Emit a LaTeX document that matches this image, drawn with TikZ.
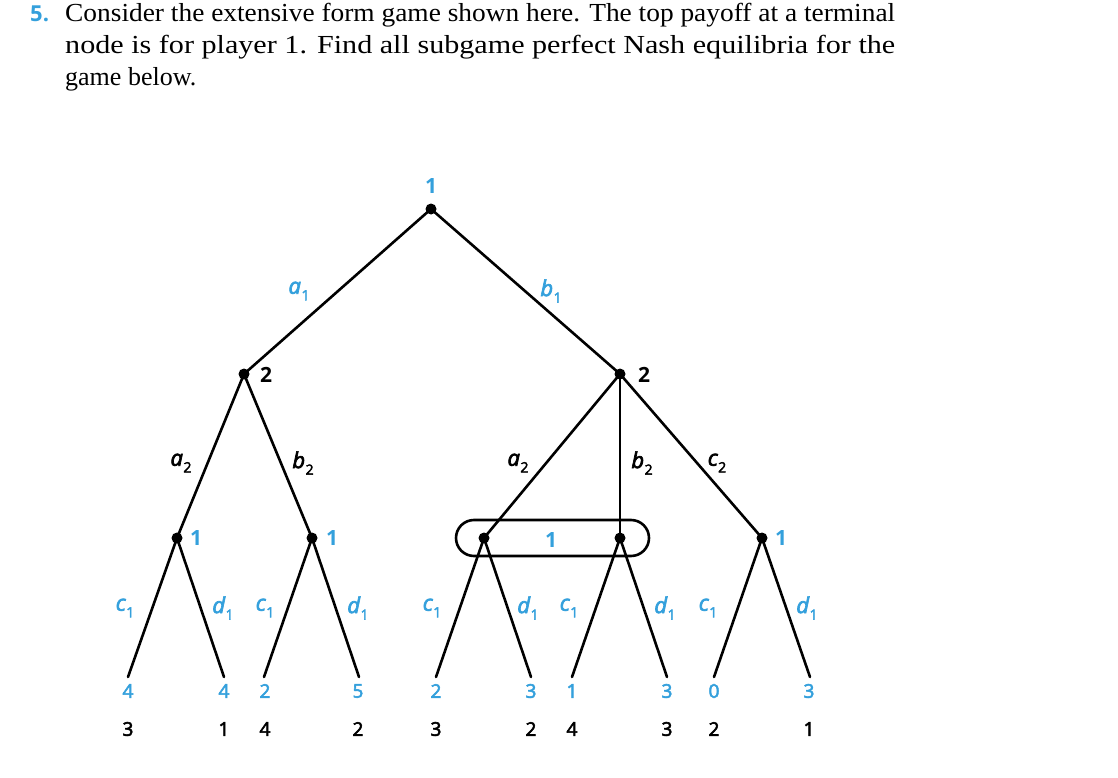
\documentclass[tikz,border=0pt]{standalone}
\usepackage{fontspec}
\usepackage{graphicx}
\setmainfont{Liberation Serif}
\newfontfamily\labf[FakeBold=3]{Open Sans}
\newfontfamily\labb{Open Sans}
\definecolor{qblue}{RGB}{52,160,220}
\newcommand{\sbs}[2]{{\itshape #1}\kern0.5pt\raisebox{-0.3em}{\fontsize{14}{14}\selectfont #2}}
\tikzset{
  dot/.style={circle,fill=black,inner sep=0pt,minimum size=11pt},
  edge/.style={line width=2.6pt,line cap=round},
  plab/.style={font=\labb\bfseries\fontsize{21}{21}\selectfont,text=qblue,inner sep=0pt},
  plabk/.style={font=\labb\bfseries\fontsize{21}{21}\selectfont,text=black,inner sep=0pt},
  alab/.style={font=\labf\fontsize{22}{22}\selectfont,text=black,inner sep=0pt},
  blab/.style={font=\labf\fontsize{22}{22}\selectfont,text=qblue,inner sep=0pt},
  pay/.style={font=\labf\fontsize{19}{19}\selectfont,text=qblue,inner sep=0pt},
  payk/.style={font=\labf\fontsize{19}{19}\selectfont,text=black,inner sep=0pt},
  ttl/.style={font=\fontsize{26}{26}\selectfont,inner sep=0pt,anchor=base west}
}
\begin{document}
\begin{tikzpicture}[x=1pt,y=-1pt]
\useasboundingbox (0,0) rectangle (1118,778);
% title
\node[font=\labb\bfseries\fontsize{22}{22}\selectfont,text=qblue,inner sep=0pt,anchor=base west] (num) at (30,22) {5.};
\node[ttl] (t1) at (65,22) {\resizebox{830pt}{\height}{Consider the extensive form game shown here. The top payoff at a terminal}};
\node[ttl] (t2) at (65,54) {\resizebox{830pt}{\height}{node is for player 1. Find all subgame perfect Nash equilibria for the}};
\node[ttl] (t3) at (65,86) {game below.};
% decision nodes
\node[dot] (r) at (431,209) {};
\node[dot] (L) at (244,374) {};
\node[dot] (R) at (620,374) {};
\node[dot] (LL) at (177,538) {};
\node[dot] (LR) at (312,538) {};
\node[dot] (RA) at (484,538) {};
\node[dot] (RB) at (620,538) {};
\node[dot] (RC) at (762,538) {};
% terminal ends
\foreach \n/\x in {t1/128,t2/224,t3/264,t4/359,t5/436,t6/531,t7/572,t8/667,t9/714,t10/810}
  \coordinate (e\n) at (\x,677);
% info set
\draw[line width=2.6pt,rounded corners=18pt] (456,520) rectangle (649,556);
% edges
\draw[edge] (r.center) -- (L.center);
\draw[edge] (r.center) -- (R.center);
\draw[edge] (L.center) -- (LL.center);
\draw[edge] (L.center) -- (LR.center);
\draw[edge] (R.center) -- (RA.center);
\draw[edge] (R.center) -- (RB.center);
\draw[edge] (R.center) -- (RC.center);
\draw[edge] (LL.center) -- (et1); \draw[edge] (LL.center) -- (et2);
\draw[edge] (LR.center) -- (et3); \draw[edge] (LR.center) -- (et4);
\draw[edge] (RA.center) -- (et5); \draw[edge] (RA.center) -- (et6);
\draw[edge] (RB.center) -- (et7); \draw[edge] (RB.center) -- (et8);
\draw[edge] (RC.center) -- (et9); \draw[edge] (RC.center) -- (et10);
% player labels
\node[plab] (pr) at (431,186) {1};
\node[plabk] (pL) at (266,375) {2};
\node[plabk] (pR) at (644,375) {2};
\node[plab] (pLL) at (196,538) {1};
\node[plab] (pLR) at (332,538) {1};
\node[plab] (pI) at (551,540) {1};
\node[plab] (pRC) at (781,538) {1};
% action labels
\node[blab] (a1) at (299,291) {\sbs{a}{1}};
\node[blab] (b1) at (551,291) {\sbs{b}{1}};
\node[alab] (a2l) at (181,463) {\sbs{a}{2}};
\node[alab] (b2l) at (303,463) {\sbs{b}{2}};
\node[alab] (a2r) at (518,463) {\sbs{a}{2}};
\node[alab] (b2r) at (642,463) {\sbs{b}{2}};
\node[alab] (c2r) at (717,463) {\sbs{c}{2}};
\foreach \n/\x/\t in {k1/125/c,k2/223/d,k3/265/c,k4/358/d,k5/432/c,k6/528/d,k7/569/c,k8/665/d,k9/708/c,k10/807/d}
  \node[blab] (l\n) at (\x,608) {\sbs{\t}{1}};
% payoffs
\foreach \n/\x/\p/\q in {1/128/4/3,2/224/4/1,3/265/2/4,4/358/5/2,5/436/2/3,6/531/3/2,7/572/1/4,8/667/3/3,9/714/0/2,10/809/3/1}{
  \node[pay] (u\n) at (\x,691) {\p};
  \node[payk] (v\n) at (\x,729) {\q};
}
\end{tikzpicture}
\end{document}
